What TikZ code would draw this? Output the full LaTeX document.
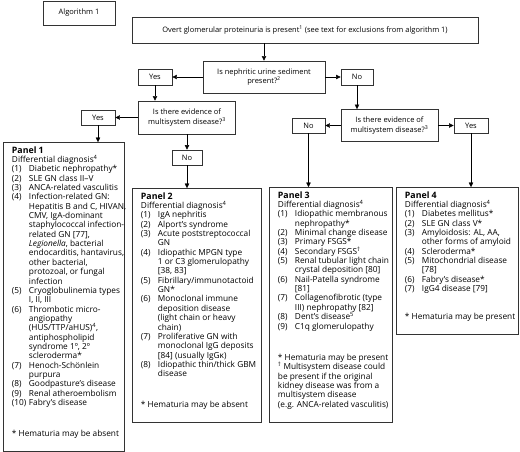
\documentclass[tikz,border=0pt]{standalone}
\usepackage{fontspec}
\setmainfont{Open Sans}
\usetikzlibrary{arrows.meta}

\tikzset{
  box/.style={draw=black!80, line width=0.8pt, fill=white, align=center, inner sep=0pt,
    font=\fontsize{7.5}{9.2}\selectfont},
  panel/.style={draw=black!80, line width=0.9pt, anchor=north west, inner xsep=8.5pt, inner ysep=4pt,
    font=\fontsize{8.3}{9.35}\selectfont},
}
\newcommand{\panelhead}[1]{{\fontsize{8.8}{11}\selectfont\bfseries #1}\par}
\newcommand{\dx}[2]{\par\noindent\hbox{\hbox to 17pt{#1\hss}#2}}
\newcommand{\dl}[1]{\par\noindent\hbox{\hspace*{17pt}#1}}
\newcommand{\dn}[1]{\par\noindent\hbox{#1}}

\begin{document}
\begin{tikzpicture}[x=1pt, y=-1pt, >={Triangle[length=4.5pt,width=4.5pt]}]
\useasboundingbox (0,0) rectangle (520,452);

% question and answer boxes
\node[box, minimum width=72pt, minimum height=24pt] (alg) at (79,13) {Algorithm 1};
\node[box, minimum width=346pt, minimum height=26pt] (overt) at (305,30)
  {Overt glomerular proteinuria is present\textsuperscript{1} (see text for exclusions from algorithm 1)};
\node[box, minimum width=122pt, minimum height=32pt] (neph) at (264,77)
  {Is nephritic urine sediment\\present?\textsuperscript{2}};
\node[box, minimum width=34pt, minimum height=16pt] (yes1) at (155,77) {Yes};
\node[box, minimum width=32pt, minimum height=16pt] (no1) at (357,77) {No};
\node[box, minimum width=97pt, minimum height=33pt] (multiL) at (187,117.5)
  {Is there evidence of\\multisystem disease?\textsuperscript{3}};
\node[box, minimum width=34pt, minimum height=15pt] (yes2) at (98,117.5) {Yes};
\node[box, minimum width=30pt, minimum height=15pt] (no2) at (187,157.5) {No};
\node[box, minimum width=97pt, minimum height=32pt] (multiR) at (389.5,125.5)
  {Is there evidence of\\multisystem disease?\textsuperscript{3}};
\node[box, minimum width=33pt, minimum height=15pt] (no3) at (308.5,125.5) {No};
\node[box, minimum width=34pt, minimum height=15pt] (yes3) at (471,125.5) {Yes};

% panels
\node[panel] (p1) at (3,142) {\begin{minipage}[t][301pt][t]{104pt}
\panelhead{Panel 1}
Differential diagnosis\textsuperscript{4}
\dx{(1)}{Diabetic nephropathy*}
\dx{(2)}{SLE GN class II–V}
\dx{(3)}{ANCA-related vasculitis}
\dx{(4)}{Infection-related GN:}
\dl{Hepatitis B and C, HIVAN,}
\dl{CMV, IgA-dominant}
\dl{staphylococcal infection-}
\dl{related GN [77],}
\dl{\textit{Legionella}, bacterial}
\dl{endocarditis, hantavirus,}
\dl{other bacterial,}
\dl{protozoal, or fungal}
\dl{infection}
\dx{(5)}{Cryoglobulinemia types}
\dl{I, II, III}
\dx{(6)}{Thrombotic micro-}
\dl{angiopathy}
\dl{(HUS/TTP/aHUS)\textsuperscript{4},}
\dl{antiphospholipid}
\dl{syndrome 1º, 2º}
\dl{scleroderma*}
\dx{(7)}{Henoch-Schönlein}
\dl{purpura}
\dx{(8)}{Goodpasture's disease}
\dx{(9)}{Renal atheroembolism}
\dx{(10)}{Fabry's disease}\par
\vfill
\dn{* Hematuria may be absent}\par
\vspace{2pt}\null
\end{minipage}};

\node[panel] (p2) at (132,188) {\begin{minipage}[t][226pt][t]{112pt}
\panelhead{Panel 2}
Differential diagnosis\textsuperscript{4}
\dx{(1)}{IgA nephritis}
\dx{(2)}{Alport's syndrome}
\dx{(3)}{Acute poststreptococcal}
\dl{GN}
\dx{(4)}{Idiopathic MPGN type}
\dl{1 or C3 glomerulopathy}
\dl{[38, 83]}
\dx{(5)}{Fibrillary/immunotactoid}
\dl{GN*}
\dx{(6)}{Monoclonal immune}
\dl{deposition disease}
\dl{(light chain or heavy}
\dl{chain)}
\dx{(7)}{Proliferative GN with}
\dl{monoclonal IgG deposits}
\dl{[84] (usually IgGκ)}
\dx{(8)}{Idiopathic thin/thick GBM}
\dl{disease}\par
\vfill
\dn{* Hematuria may be absent}\par
\vspace{2pt}\null
\end{minipage}};

\node[panel] (p3) at (269,187) {\begin{minipage}[t][227pt][t]{106pt}
\panelhead{Panel 3}
Differential diagnosis\textsuperscript{4}
\dx{(1)}{Idiopathic membranous}
\dl{nephropathy*}
\dx{(2)}{Minimal change disease}
\dx{(3)}{Primary FSGS*}
\dx{(4)}{Secondary FSGS\textsuperscript{†}}
\dx{(5)}{Renal tubular light chain}
\dl{crystal deposition [80]}
\dx{(6)}{Nail-Patella syndrome}
\dl{[81]}
\dx{(7)}{Collagenofibrotic (type}
\dl{III) nephropathy [82]}
\dx{(8)}{Dent's disease\textsuperscript{5}}
\dx{(9)}{C1q glomerulopathy}\par
\vfill
\dn{* Hematuria may be present}
\dn{\textsuperscript{†} Multisystem disease could}
\dn{be present if the original}
\dn{kidney disease was from a}
\dn{multisystem disease}
\dn{(e.g. ANCA-related vasculitis)}\par
\vspace{2pt}\null
\end{minipage}};

\node[panel] (p4) at (396,187) {\begin{minipage}[t][139pt][t]{105pt}
\panelhead{Panel 4}
Differential diagnosis\textsuperscript{4}
\dx{(1)}{Diabetes mellitus*}
\dx{(2)}{SLE GN class V*}
\dx{(3)}{Amyloidosis: AL, AA,}
\dl{other forms of amyloid}
\dx{(4)}{Scleroderma*}
\dx{(5)}{Mitochondrial disease}
\dl{[78]}
\dx{(6)}{Fabry's disease*}
\dx{(7)}{IgG4 disease [79]}\par
\vfill
\dn{* Hematuria may be present}\par
\vspace{2pt}\null
\end{minipage}};

% arrows
\draw[->] (overt.south -| neph.north) -- (neph.north);
\draw[->] (neph) -- (yes1);
\draw[->] (neph) -- (no1);
\draw[->] (yes1.south) -- (yes1.south |- multiL.north);
\draw[->] (multiL) -- (yes2);
\draw[->] (multiL) -- (no2);
\draw[->] (yes2.south) -- (yes2.south |- p1.north);
\draw[->] (no2.south) -- (no2.south |- p2.north);
\draw[->] (no1.south) -- (no1.south |- multiR.north);
\draw[->] (multiR) -- (no3);
\draw[->] (multiR) -- (yes3);
\draw[->] (no3.south) -- (no3.south |- p3.north);
\draw[->] (yes3.south) -- (yes3.south |- p4.north);
\end{tikzpicture}
\end{document}
